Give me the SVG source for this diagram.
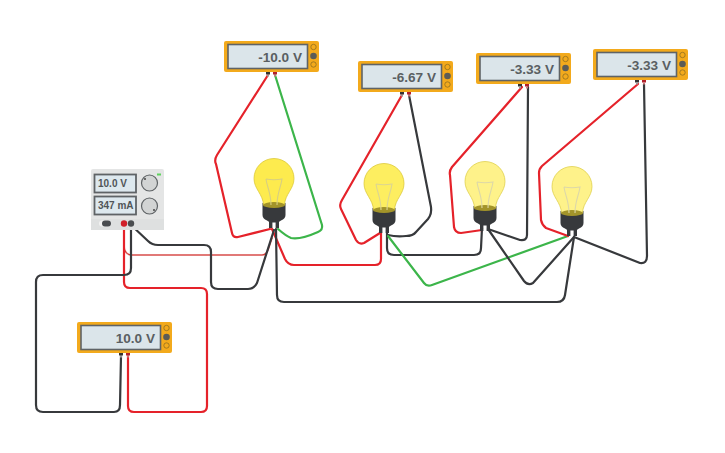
<svg xmlns="http://www.w3.org/2000/svg" width="725" height="453" viewBox="0 0 725 453">
<style>
text{font-family:"Liberation Sans",Arial,sans-serif;font-weight:bold;fill:#5a5f62}
.mv{font-size:13.6px;text-anchor:end}
.ps{font-size:10px;fill:#505558}
.w{fill:none;stroke-width:2.200;stroke-linecap:round;stroke-linejoin:round}
.r{stroke:#e5222a}.k{stroke:#37393c}.g{stroke:#3cb54a}
</style>
<defs>
<g id="meter">
<rect x="0" y="0" width="95" height="31" rx="2" fill="#f3aa1c"/>
<rect x="4" y="3.500" width="79.500" height="24" fill="#dbe5ea" stroke="#5f6366" stroke-width="1.600"/>
<circle cx="89.500" cy="6" r="2.700" fill="#f3aa1c" stroke="#8f6f22" stroke-width="0.800"/>
<circle cx="89.500" cy="15" r="3.300" fill="#5c5c56"/>
<circle cx="89.500" cy="23.500" r="2.700" fill="#f3aa1c" stroke="#8f6f22" stroke-width="0.800"/>
<rect x="42" y="31" width="4" height="2.500" fill="#333"/>
<rect x="49" y="31" width="4" height="2.500" fill="#b3202a"/>
<rect x="43" y="33.500" width="2" height="2" fill="#999"/>
<rect x="50" y="33.500" width="2" height="2" fill="#c9777b"/>
</g>
<g id="socket">
<path d="M-11.500 44H11.500V56Q11.500 59.500 7 61.500L4 63.500H-4L-7 61.500Q-11.500 59.500-11.500 56Z" fill="#37393c"/>
<rect x="-5" y="60" width="3.400" height="9" fill="#37393c"/>
<rect x="1.600" y="60" width="3.400" height="9" fill="#37393c"/>
</g>
<path id="glass" d="M-10.500 46C-11 35-20 30-20 19.500A20 20 0 0 1 20 19.500C20 30 11 35 10.500 46Z"/>
<path id="fil" d="M-8 20Q0 21.500 8 20C7 28 3 34 3 46M-8 20C-7 28-3 34-3 46" fill="none" stroke-width="1.100"/>
</defs>

<g id="connectors">
<path class="w r" d="M268 75L217 155Q214 160 216 164L232 233Q233 238 238 237L270 229"/>
<path class="w g" d="M275 75L322 225Q323 230 318 232Q300 240 291 238Q286 236 278 229"/>
<path class="w r" d="M272 229L285 259Q288 265 294 265H375Q381 265 381 259V233"/>
<path class="w r" d="M402 95L342 200Q339 205 341 209L356 240Q359 245 364 243L380 233"/>
<path class="w k" d="M409 95L431 207Q432 214 428 219L416 232Q413 236 406 236Q396 237 388 235"/>
<path class="w k" d="M387 233V248Q387 255 394 255H474Q481 255 481 248L482 228"/>
<path class="w g" d="M388 236L424 283Q427 287 432 285L568 236"/>
<path class="w r" d="M522 87L452 167Q449 171 450 175L454 227Q455 233 461 233L482 230"/>
<path class="w k" d="M528 87L527 235Q527 241 520 240L488 229"/>
<path class="w k" d="M488 229L524 281Q528 286 533 283L574 237"/>
<path class="w k" d="M574 237L565 295Q564 302 557 302H284Q277 302 277 295L276 229"/>
<path class="w r" d="M638 84L542 166Q539 169 539 173L541 220Q542 225 546 228L568 236"/>
<path class="w k" d="M644 84L647 256Q647 264 640 263L574 237"/>
<path d="M124 247Q125 255 132 255H262Q266 255 268 250L272 238" fill="none" stroke="#f3b8b8" stroke-width="2" stroke-linecap="round"/>
<path d="M124 247Q125 255 132 255H262Q266 255 268 250L272 238" fill="none" stroke="#cf3a36" stroke-width="1.100" stroke-linecap="round"/>
<path class="w k" d="M131 225L148 241Q152 245 158 245H204Q211 245 211 252V282Q211 289 218 289H248Q254 289 257 283L274 230"/>
<path class="w r" d="M124 223V282Q124 288 130 288H201Q207 288 207 294V406Q207 412 201 412H134Q128 412 128 406V356"/>
<path class="w k" d="M131 223V268Q131 275 124 275H43Q36 275 36 282V405Q36 412 43 412H114Q120 412 120 405L121 356"/>
</g>

<g id="power-supply">
<rect x="91" y="169" width="73" height="61" rx="2" fill="#e4e5e5"/>
<rect x="91" y="219" width="73" height="11" fill="#dee0e0"/>
<rect x="94.500" y="174.500" width="41.500" height="18" fill="#dde8ee" stroke="#5f6366" stroke-width="1.800"/>
<rect x="94.500" y="196.500" width="41.500" height="18" fill="#dde8ee" stroke="#5f6366" stroke-width="1.800"/>
<text class="ps" x="98" y="187">10.0 V</text>
<text class="ps" x="98" y="209">347 mA</text>
<circle cx="149.500" cy="183" r="8" fill="#d2d4d4" stroke="#5f6366" stroke-width="1.200"/>
<circle cx="149.500" cy="206" r="8" fill="#d2d4d4" stroke="#5f6366" stroke-width="1.200"/>
<circle cx="145" cy="179" r="1" fill="#444"/>
<circle cx="154" cy="210" r="1" fill="#444"/>
<rect x="157" y="173.500" width="4" height="2" fill="#5fd35f"/>
<rect x="99" y="220.500" width="12" height="6" rx="3" fill="#f2f2f2"/>
<rect x="102" y="220.500" width="9" height="6" rx="3" fill="#4a4d50"/>
<circle cx="124" cy="223.500" r="3.200" fill="#d0202a"/>
<circle cx="131" cy="223.500" r="3.200" fill="#4a4d50"/>
</g>

<g id="meter-1"><use href="#meter" x="224" y="41"/><text class="mv" x="302" y="62">-10.0 V</text></g>
<g id="meter-2"><use href="#meter" x="358" y="61"/><text class="mv" x="436" y="82">-6.67 V</text></g>
<g id="meter-3"><use href="#meter" x="476" y="53"/><text class="mv" x="554" y="74">-3.33 V</text></g>
<g id="meter-4"><use href="#meter" x="593" y="49"/><text class="mv" x="671" y="70">-3.33 V</text></g>
<g id="meter-5"><use href="#meter" x="77" y="322"/><text class="mv" x="155" y="343">10.0 V</text></g>

<g id="bulb-1" transform="translate(274 159)">
<use href="#socket"/>
<use href="#glass" fill="#fdeb4e" stroke="#dcc93a" stroke-width="0.800"/>
<ellipse cx="0" cy="46" rx="11" ry="3" fill="#a3942a"/>
<use href="#fil" stroke="#d8cf80"/>
</g>
<g id="bulb-2" transform="translate(384 164)">
<use href="#socket"/>
<use href="#glass" fill="#fdee60" stroke="#dcc93a" stroke-width="0.800"/>
<ellipse cx="0" cy="46" rx="11" ry="3" fill="#a3942a"/>
<use href="#fil" stroke="#dcd592"/>
</g>
<g id="bulb-3" transform="translate(485 162)">
<use href="#socket"/>
<use href="#glass" fill="#fef28a" stroke="#e0d04e" stroke-width="0.800"/>
<ellipse cx="0" cy="46" rx="11" ry="3" fill="#a3942a"/>
<use href="#fil" stroke="#ddd8a8"/>
</g>
<g id="bulb-4" transform="translate(572 167)">
<use href="#socket"/>
<use href="#glass" fill="#fef28a" stroke="#e0d04e" stroke-width="0.800"/>
<ellipse cx="0" cy="46" rx="11" ry="3" fill="#a3942a"/>
<use href="#fil" stroke="#ddd8a8"/>
</g>
</svg>
